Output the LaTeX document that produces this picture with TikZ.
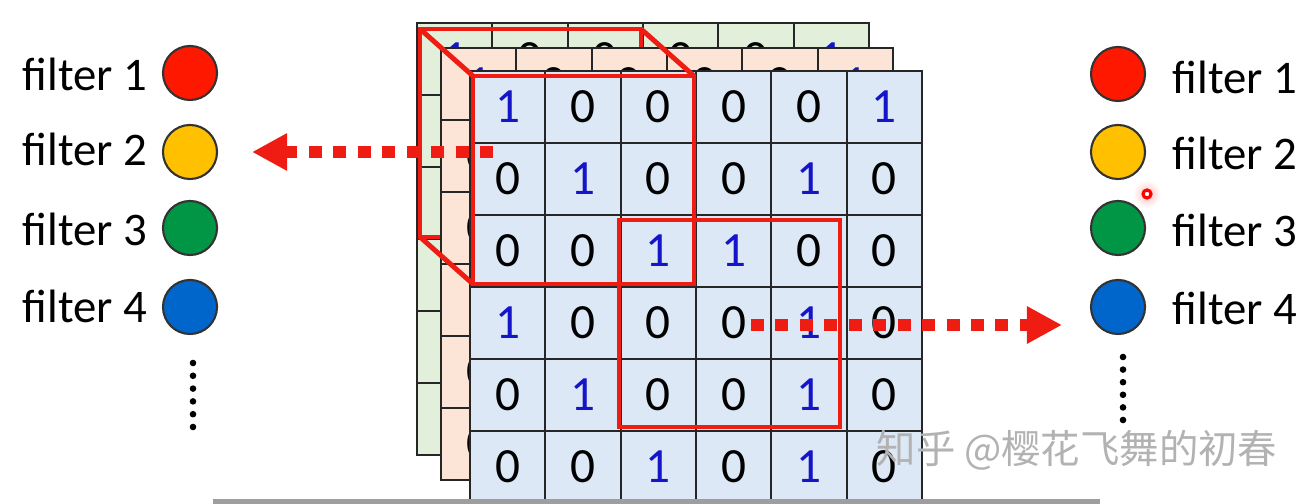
\documentclass[tikz,border=0pt]{standalone}
\usepackage{fontspec}
\setmainfont{Carlito}
\newfontfamily\cjkfont{Noto Sans CJK SC}
\usetikzlibrary{arrows.meta}
\definecolor{rossobox}{RGB}{238,28,18}
\definecolor{azzurro}{RGB}{220,232,246}
\definecolor{pesca}{RGB}{252,229,214}
\definecolor{verdegriglia}{RGB}{226,239,218}
\definecolor{blucifra}{RGB}{20,20,200}
\definecolor{filtrorosso}{RGB}{255,24,0}
\definecolor{filtrogiallo}{RGB}{255,192,0}
\definecolor{filtroverde}{RGB}{0,150,70}
\definecolor{filtroblu}{RGB}{0,102,204}

% valori della matrice 6x6
\newcommand{\valori}{{1,0,0,0,0,1},{0,1,0,0,1,0},{0,0,1,1,0,0},{1,0,0,0,1,0},{0,1,0,0,1,0},{0,0,1,0,1,0}}
% griglia: origine x, origine y, colore, prefisso dei nomi
\newcommand{\griglia}[4]{%
  \foreach \riga [count=\r] in \valori {
    \foreach \v [count=\c] in \riga {
      \draw[cella, fill=#3] ({#1+(\c-1)*75.33},{#2+(\r-1)*72}) rectangle +(75.33,72);
      \node[cifra, v\v] (#4-\r-\c) at ({#1+(\c-0.5)*75.33},{#2+(\r-0.5)*72}) {\v};
    }
  }}

\begin{document}
\begin{tikzpicture}[x=0.01cm, y=-0.01cm,
    cella/.style={draw=black!85, line width=0.6pt},
    cifra/.style={font=\fontsize{14}{16}\selectfont, inner sep=0pt},
    v0/.style={text=black},
    v1/.style={text=blucifra},
    riquadro/.style={draw=rossobox, line width=1.4pt},
    freccia/.style={draw=rossobox, line width=3.4pt, dash pattern=on 3.7pt off 3.25pt,
      -{Triangle[length=10pt,width=10pt]}},
    cerchio/.style={circle, draw=black!80, line width=0.6pt, minimum size=0.54cm, inner sep=0pt},
    etichetta/.style={font=\fontsize{13.3}{16}\selectfont, inner sep=0pt},
    filigrana/.style={font=\cjkfont\fontsize{11.2}{13}\selectfont, text=black!30, inner sep=0pt}]
  \useasboundingbox (0,0) rectangle (1310,504);

  % Griglia posteriore
  \griglia{417}{23}{verdegriglia}{g}
  \coordinate (r0nw) at (420,29);
  \coordinate (r0ne) at (641,29);
  \coordinate (r0sw) at (420,237);
  \coordinate (r0se) at (641,237);
  \draw[riquadro] (r0nw) rectangle (r0se);

  % Griglia intermedia e anteriore
  \griglia{441}{48}{pesca}{p}
  \griglia{470}{71}{azzurro}{a}

  % Riquadri rossi
  \coordinate (r1nw) at (473,76);
  \coordinate (r1ne) at (694,76);
  \coordinate (r1sw) at (473,284);
  \coordinate (r1se) at (694,284);
  \draw[riquadro] (r1nw) rectangle (r1se);
  \draw[riquadro] (619,220) rectangle (840,427);
  \draw[riquadro] (r0nw) -- (r1nw) (r0ne) -- (r1ne) (r0sw) -- (r1sw);

  % Frecce tratteggiate
  \coordinate (da1) at (493,152);
  \coordinate (a1) at (252,152);
  \coordinate (da2) at (751,325);
  \coordinate (a2) at (1062,325);
  \draw[freccia] (da1) -- (a1);
  \draw[freccia] (da2) -- (a2);

  % Filtri a sinistra
  \foreach \i/\y/\ty/\col in {1/73/74/filtrorosso, 2/152/149/filtrogiallo, 3/228/229/filtroverde, 4/307/306/filtroblu} {
    \node[cerchio, fill=\col] (sx\i) at (190,\y) {};
    \node[etichetta, anchor=east] (tsx\i) at (148,\ty) {filter \i};
  }
  % Filtri a destra
  \foreach \i/\y/\ty/\col in {1/74/77/filtrorosso, 2/152/153/filtrogiallo, 3/228/230/filtroverde, 4/307/308/filtroblu} {
    \node[cerchio, fill=\col] (dx\i) at (1118,\y) {};
    \node[etichetta, anchor=west] (tdx\i) at (1172,\ty) {filter \i};
  }
  \foreach \k in {0,...,5} {
    \fill (193,{363+12.8*\k}) circle (3.3);
    \fill (1123,{357+12.6*\k}) circle (3.3);
  }

  % Puntatore, barra e filigrana
  \shade[inner color=red!25, outer color=white] (1147,194) circle (14);
  \draw[red, line width=0.9pt, fill=white] (1147,194) circle (4);
  \fill[black!38] (213,499) rectangle (1100,504);
  \node[filigrana] (zhihu) at (1077,450) {知乎 @樱花飞舞的初春};
\end{tikzpicture}
\end{document}
